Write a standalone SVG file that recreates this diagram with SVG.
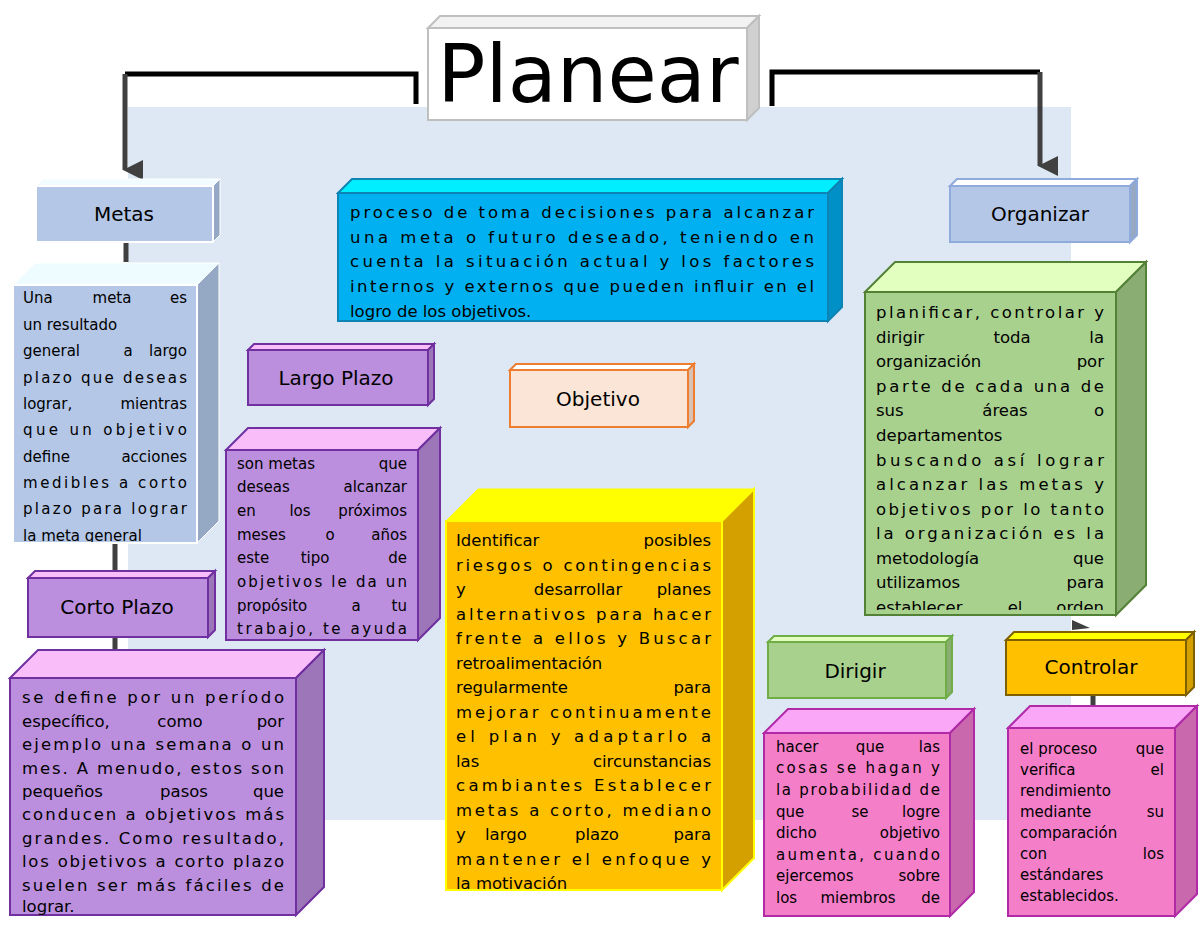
<svg xmlns="http://www.w3.org/2000/svg" width="1200" height="927" viewBox="0 0 1200 927">
<style>
text{font-family:"DejaVu Sans","Liberation Sans",sans-serif;fill:#000}
.lbl{font-size:20px;text-anchor:middle}
.t15{font-size:15px}.t16{font-size:16px}.t17{font-size:16.5px}
.e{text-anchor:end}.m{text-anchor:middle}
.conn{fill:none;stroke:#000;stroke-width:5}
.conn2{fill:none;stroke:#404040;stroke-width:5}
</style>
<defs>
<marker id="ah" viewBox="0 0 10 10" refX="5" refY="9" markerWidth="4" markerHeight="4" orient="auto-start-reverse" markerUnits="strokeWidth"><path d="M0,0 L10,0 L5,10 z" fill="#404040"/></marker>
<clipPath id="cMet"><rect x="13" y="285" width="184" height="257"/></clipPath>
<clipPath id="cLar"><rect x="226" y="450" width="192" height="189"/></clipPath>
<clipPath id="cBlu"><rect x="338" y="193" width="490" height="127"/></clipPath>
<clipPath id="cYel"><rect x="446" y="521" width="276" height="368"/></clipPath>
<clipPath id="cGrn"><rect x="865" y="292" width="251" height="318"/></clipPath>
<clipPath id="cDir"><rect x="764" y="733" width="186" height="180"/></clipPath>
</defs>
<rect x="128" y="107" width="943" height="713" fill="#dde8f4"/>
<g id="connectors">
<path class="conn" d="M416,104 V74 H125"/>
<path class="conn2" d="M125,74 V170" marker-end="url(#ah)"/>
<path class="conn" d="M772,106 V72 H1040"/>
<path class="conn2" d="M1040,72 V166" marker-end="url(#ah)"/>
<path class="conn2" d="M126,242 V262"/>
<path class="conn2" d="M115,543 V571 M115,637 V650"/>
<path class="conn2" d="M1093,695 V708"/>
<path d="M1072,620 L1090,628 L1072,630 z" fill="#404040"/>
</g>
<g id="planear">
<polygon points="428,28 440,16 759,16 747,28" fill="#f2f2f2" stroke="#bfbfbf" stroke-width="2"/>
<polygon points="747,28 759,16 759,108 747,120" fill="#d0d0d0" stroke="#bfbfbf" stroke-width="2"/>
<rect x="428" y="28" width="319" height="92" fill="#fff" stroke="#bfbfbf" stroke-width="2"/>
<text x="588" y="102" style="font-size:80px;text-anchor:middle">Planear</text>
</g>
<g id="metas">
<polygon points="36,186 43,179 220,179 213,186" fill="#f0fcff" stroke="#fff"/>
<polygon points="213,186 220,179 220,235 213,242" fill="#95a8c4" stroke="#fff"/>
<rect x="36" y="186" width="177" height="56" fill="#b4c7e7" stroke="#fff" stroke-width="2"/>
<text x="124" y="221" class="lbl">Metas</text>
</g>
<g id="metas-texto">
<polygon points="13,285 35,263 219,263 197,285" fill="#eefcff" stroke="#fff"/>
<polygon points="197,285 219,263 219,521 197,543" fill="#95a8c4" stroke="#fff"/>
<rect x="13" y="285" width="184" height="258" fill="#b4c7e7" stroke="#fff" stroke-width="2"/>
<g class="t15" clip-path="url(#cMet)">
<text x="23" y="303">Una</text><text x="112" y="303" class="m">meta</text><text x="187" y="303" class="e">es</text>
<text x="23" y="330">un resultado</text>
<text x="23" y="356">general</text><text x="128" y="356" class="m">a</text><text x="187" y="356" class="e">largo</text>
<text x="23" y="383" textLength="164" lengthAdjust="spacing">plazo que deseas</text>
<text x="23" y="409">lograr,</text><text x="187" y="409" class="e">mientras</text>
<text x="23" y="435" textLength="164" lengthAdjust="spacing">que un objetivo</text>
<text x="23" y="462">define</text><text x="187" y="462" class="e">acciones</text>
<text x="23" y="488" textLength="164" lengthAdjust="spacing">medibles a corto</text>
<text x="23" y="514" textLength="164" lengthAdjust="spacing">plazo para lograr</text>
<text x="23" y="541">la meta general</text>
</g>
</g>
<g id="corto">
<polygon points="28,578 35,571 215,571 208,578" fill="#f9bdfa" stroke="#7030a0" stroke-width="2"/>
<polygon points="208,578 215,571 215,630 208,637" fill="#9c76b8" stroke="#7030a0" stroke-width="2"/>
<rect x="28" y="578" width="180" height="59" fill="#bb8fdd" stroke="#7030a0" stroke-width="2"/>
<text x="117" y="614" class="lbl">Corto Plazo</text>
</g>
<g id="corto-texto">
<polygon points="10,678 38,650 324,650 296,678" fill="#f9bdfa" stroke="#7030a0" stroke-width="2"/>
<polygon points="296,678 324,650 324,887 296,915" fill="#9c76b8" stroke="#7030a0" stroke-width="2"/>
<rect x="10" y="678" width="286" height="237" fill="#bb8fdd" stroke="#7030a0" stroke-width="2"/>
<g class="t17">
<text x="22" y="703" textLength="262" lengthAdjust="spacing">se define por un período</text>
<text x="22" y="727">específico,</text><text x="180" y="727" class="m">como</text><text x="284" y="727" class="e">por</text>
<text x="22" y="750" textLength="262" lengthAdjust="spacing">ejemplo una semana o un</text>
<text x="22" y="774" textLength="262" lengthAdjust="spacing">mes. A menudo, estos son</text>
<text x="22" y="797">pequeños</text><text x="184" y="797" class="m">pasos</text><text x="284" y="797" class="e">que</text>
<text x="22" y="820" textLength="262" lengthAdjust="spacing">conducen a objetivos más</text>
<text x="22" y="844" textLength="262" lengthAdjust="spacing">grandes. Como resultado,</text>
<text x="22" y="867" textLength="262" lengthAdjust="spacing">los objetivos a corto plazo</text>
<text x="22" y="891" textLength="262" lengthAdjust="spacing">suelen ser más fáciles de</text>
<text x="22" y="912">lograr.</text>
</g>
</g>
<g id="largo">
<polygon points="248,350 254,344 434,344 428,350" fill="#f9bdfa" stroke="#7030a0" stroke-width="2"/>
<polygon points="428,350 434,344 434,399 428,405" fill="#9c76b8" stroke="#7030a0" stroke-width="2"/>
<rect x="248" y="350" width="180" height="55" fill="#bb8fdd" stroke="#7030a0" stroke-width="2"/>
<text x="336" y="385" class="lbl">Largo Plazo</text>
</g>
<g id="largo-texto">
<polygon points="226,450 248,428 440,428 418,450" fill="#f9bdfa" stroke="#7030a0" stroke-width="2"/>
<polygon points="418,450 440,428 440,618 418,640" fill="#9c76b8" stroke="#7030a0" stroke-width="2"/>
<rect x="226" y="450" width="192" height="190" fill="#bb8fdd" stroke="#7030a0" stroke-width="2"/>
<g class="t15" clip-path="url(#cLar)">
<text x="237" y="469">son metas</text><text x="407" y="469" class="e">que</text>
<text x="237" y="492">deseas</text><text x="407" y="492" class="e">alcanzar</text>
<text x="237" y="516">en</text><text x="300" y="516" class="m">los</text><text x="407" y="516" class="e">próximos</text>
<text x="237" y="540">meses</text><text x="330" y="540" class="m">o</text><text x="407" y="540" class="e">años</text>
<text x="237" y="563">este</text><text x="315" y="563" class="m">tipo</text><text x="407" y="563" class="e">de</text>
<text x="237" y="587" textLength="170" lengthAdjust="spacing">objetivos le da un</text>
<text x="237" y="611">propósito</text><text x="356" y="611" class="m">a</text><text x="407" y="611" class="e">tu</text>
<text x="237" y="634" textLength="170" lengthAdjust="spacing">trabajo, te ayuda</text>
<text x="237" y="656">a</text><text x="407" y="656" class="e">tomar</text>
</g>
</g>
<g id="definicion">
<polygon points="338,193 352,179 842,179 828,193" fill="#00eeff" stroke="#0e84b4" stroke-width="2"/>
<polygon points="828,193 842,179 842,307 828,321" fill="#0090c8" stroke="#0e84b4" stroke-width="2"/>
<rect x="338" y="193" width="490" height="128" fill="#00b0f0" stroke="#0e84b4" stroke-width="2"/>
<g class="t17" clip-path="url(#cBlu)">
<text x="350" y="218" textLength="464" lengthAdjust="spacing">proceso de toma decisiones para alcanzar</text>
<text x="350" y="243" textLength="464" lengthAdjust="spacing">una meta o futuro deseado, teniendo en</text>
<text x="350" y="267" textLength="464" lengthAdjust="spacing">cuenta la situación actual y los factores</text>
<text x="350" y="292" textLength="464" lengthAdjust="spacing">internos y externos que pueden influir en el</text>
<text x="350" y="317">logro de los objetivos.</text>
</g>
</g>
<g id="objetivo">
<polygon points="510,370 516,364 694,364 688,370" fill="#fff" stroke="#ed7d31" stroke-width="2"/>
<polygon points="688,370 694,364 694,421 688,427" fill="#d9c2b4" stroke="#ed7d31" stroke-width="2"/>
<rect x="510" y="370" width="178" height="57" fill="#fbe5d6" stroke="#ed7d31" stroke-width="2"/>
<text x="598" y="406" class="lbl">Objetivo</text>
</g>
<g id="objetivo-texto">
<polygon points="446,521 478,489 754,489 722,521" fill="#ffff00" stroke="#ffff00"/>
<polygon points="722,521 754,489 754,858 722,890" fill="#d4a000" stroke="#ffff00" stroke-width="2"/>
<rect x="446" y="521" width="276" height="369" fill="#ffc000" stroke="#ffff00" stroke-width="2"/>
<g class="t17" clip-path="url(#cYel)">
<text x="456" y="546">Identificar</text><text x="711" y="546" class="e">posibles</text>
<text x="456" y="571" textLength="255" lengthAdjust="spacing">riesgos o contingencias</text>
<text x="456" y="595">y</text><text x="578" y="595" class="m">desarrollar</text><text x="711" y="595" class="e">planes</text>
<text x="456" y="620" textLength="255" lengthAdjust="spacing">alternativos para hacer</text>
<text x="456" y="644" textLength="255" lengthAdjust="spacing">frente a ellos y Buscar</text>
<text x="456" y="669">retroalimentación</text>
<text x="456" y="693">regularmente</text><text x="711" y="693" class="e">para</text>
<text x="456" y="718" textLength="255" lengthAdjust="spacing">mejorar continuamente</text>
<text x="456" y="742" textLength="255" lengthAdjust="spacing">el plan y adaptarlo a</text>
<text x="456" y="767">las</text><text x="711" y="767" class="e">circunstancias</text>
<text x="456" y="791" textLength="255" lengthAdjust="spacing">cambiantes Establecer</text>
<text x="456" y="816" textLength="255" lengthAdjust="spacing">metas a corto, mediano</text>
<text x="456" y="840">y</text><text x="485" y="840">largo</text><text x="575" y="840">plazo</text><text x="711" y="840" class="e">para</text>
<text x="456" y="865" textLength="255" lengthAdjust="spacing">mantener el enfoque y</text>
<text x="456" y="889">la motivación</text>
</g>
</g>
<g id="organizar">
<polygon points="950,186 957,179 1137,179 1130,186" fill="#fff" stroke="#8faadc" stroke-width="2"/>
<polygon points="1130,186 1137,179 1137,235 1130,242" fill="#95a8c4" stroke="#8faadc" stroke-width="2"/>
<rect x="950" y="186" width="180" height="56" fill="#b4c7e7" stroke="#8faadc" stroke-width="2"/>
<text x="1040" y="221" class="lbl">Organizar</text>
</g>
<g id="organizar-texto">
<polygon points="865,292 895,262 1146,262 1116,292" fill="#e2ffc0" stroke="#538135" stroke-width="2"/>
<polygon points="1116,292 1146,262 1146,585 1116,615" fill="#8aad74" stroke="#538135" stroke-width="2"/>
<rect x="865" y="292" width="251" height="323" fill="#a9d18e" stroke="#538135" stroke-width="2"/>
<g class="t17" clip-path="url(#cGrn)">
<text x="876" y="318" textLength="228" lengthAdjust="spacing">planificar, controlar y</text>
<text x="876" y="343">dirigir</text><text x="1012" y="343" class="m">toda</text><text x="1104" y="343" class="e">la</text>
<text x="876" y="367">organización</text><text x="1104" y="367" class="e">por</text>
<text x="876" y="392" textLength="228" lengthAdjust="spacing">parte de cada una de</text>
<text x="876" y="416">sus</text><text x="1005" y="416" class="m">áreas</text><text x="1104" y="416" class="e">o</text>
<text x="876" y="441">departamentos</text>
<text x="876" y="466" textLength="228" lengthAdjust="spacing">buscando así lograr</text>
<text x="876" y="490" textLength="228" lengthAdjust="spacing">alcanzar las metas y</text>
<text x="876" y="515" textLength="228" lengthAdjust="spacing">objetivos por lo tanto</text>
<text x="876" y="539" textLength="228" lengthAdjust="spacing">la organización es la</text>
<text x="876" y="564">metodología</text><text x="1104" y="564" class="e">que</text>
<text x="876" y="588">utilizamos</text><text x="1104" y="588" class="e">para</text>
<text x="876" y="613">establecer</text><text x="1015" y="613" class="m">el</text><text x="1104" y="613" class="e">orden</text>
</g>
</g>
<g id="dirigir">
<polygon points="768,642 774,636 952,636 946,642" fill="#e2ffc0" stroke="#70ad47" stroke-width="2"/>
<polygon points="946,642 952,636 952,692 946,698" fill="#8aad74" stroke="#70ad47" stroke-width="2"/>
<rect x="768" y="642" width="178" height="56" fill="#a9d18e" stroke="#70ad47" stroke-width="2"/>
<text x="855" y="678" class="lbl">Dirigir</text>
</g>
<g id="dirigir-texto">
<polygon points="764,733 788,709 974,709 950,733" fill="#fba7f8" stroke="#b02aa8" stroke-width="2"/>
<polygon points="950,733 974,709 974,892 950,916" fill="#c968ac" stroke="#b02aa8" stroke-width="2"/>
<rect x="764" y="733" width="186" height="183" fill="#f47ec8" stroke="#b02aa8" stroke-width="2"/>
<g class="t15" clip-path="url(#cDir)">
<text x="776" y="752">hacer</text><text x="870" y="752" class="m">que</text><text x="940" y="752" class="e">las</text>
<text x="776" y="773" textLength="164" lengthAdjust="spacing">cosas se hagan y</text>
<text x="776" y="795" textLength="164" lengthAdjust="spacing">la probabilidad de</text>
<text x="776" y="817">que</text><text x="860" y="817" class="m">se</text><text x="940" y="817" class="e">logre</text>
<text x="776" y="838">dicho</text><text x="940" y="838" class="e">objetivo</text>
<text x="776" y="860" textLength="164" lengthAdjust="spacing">aumenta, cuando</text>
<text x="776" y="881">ejercemos</text><text x="940" y="881" class="e">sobre</text>
<text x="776" y="903">los</text><text x="858" y="903" class="m">miembros</text><text x="940" y="903" class="e">de</text>
<text x="776" y="925">la</text>
</g>
</g>
<g id="controlar">
<polygon points="1006,640 1014,632 1194,632 1186,640" fill="#ffff00" stroke="#7f6000" stroke-width="2"/>
<polygon points="1186,640 1194,632 1194,687 1186,695" fill="#d4a000" stroke="#7f6000" stroke-width="2"/>
<rect x="1006" y="640" width="180" height="55" fill="#ffc000" stroke="#7f6000" stroke-width="2"/>
<text x="1091" y="674" class="lbl">Controlar</text>
</g>
<g id="controlar-texto">
<polygon points="1008,728 1030,706 1197,706 1175,728" fill="#fba7f8" stroke="#b02aa8" stroke-width="2"/>
<polygon points="1175,728 1197,706 1197,894 1175,916" fill="#c968ac" stroke="#b02aa8" stroke-width="2"/>
<rect x="1008" y="728" width="167" height="188" fill="#f47ec8" stroke="#b02aa8" stroke-width="2"/>
<g class="t15">
<text x="1020" y="754">el proceso</text><text x="1164" y="754" class="e">que</text>
<text x="1020" y="775">verifica</text><text x="1164" y="775" class="e">el</text>
<text x="1020" y="796">rendimiento</text>
<text x="1020" y="817">mediante</text><text x="1164" y="817" class="e">su</text>
<text x="1020" y="838">comparación</text>
<text x="1020" y="859">con</text><text x="1164" y="859" class="e">los</text>
<text x="1020" y="880">estándares</text>
<text x="1020" y="901">establecidos.</text>
</g>
</g>
</svg>
